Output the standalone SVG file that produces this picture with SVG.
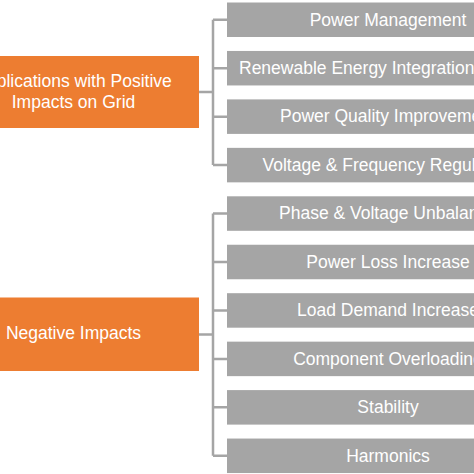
<svg xmlns="http://www.w3.org/2000/svg" width="474" height="474" viewBox="0 0 474 474">
<style>
.o{fill:#ED7D31}
.g{fill:#A5A5A5}
text{font-family:"Liberation Sans",Arial,sans-serif;font-size:17.5px;fill:#FFFFFF;text-anchor:middle}
.c{stroke:#A5A5A5;stroke-width:2.5;fill:none}
</style>
<rect width="474" height="474" fill="#FFFFFF"/>
<g id="connectors">
<path class="c" d="M199 92H213M213 19.75V165.1M213 19.75H227M213 68.2H227M213 116.65H227M213 165.1H227"/>
<path class="c" d="M199 334.5H213M213 213.55V455.8M213 213.55H227M213 262H227M213 310.45H227M213 358.9H227M213 407.35H227M213 455.8H227"/>
</g>
<g id="positive"><rect class="o" x="-52" y="56" width="251" height="72"/><text x="73.5" y="87">Applications with Positive</text><text x="73.5" y="108">Impacts on Grid</text></g>
<g id="negative"><rect class="o" x="-52" y="297.5" width="251" height="73.5"/><text x="73.5" y="339">Negative Impacts</text></g>
<g id="n1"><rect class="g" x="227" y="2.5" width="322" height="34.5"/><text x="388" y="25.5">Power Management</text></g>
<g id="n2"><rect class="g" x="227" y="50.95" width="322" height="34.5"/><text x="239" y="73.9" style="text-anchor:start">Renewable Energy Integration</text></g>
<g id="n3"><rect class="g" x="227" y="99.4" width="322" height="34.5"/><text x="388" y="122.35">Power Quality Improvement</text></g>
<g id="n4"><rect class="g" x="227" y="147.85" width="322" height="34.5"/><text x="388" y="170.8">Voltage &amp; Frequency Regulation</text></g>
<g id="n5"><rect class="g" x="227" y="196.3" width="322" height="34.5"/><text x="388" y="219.25">Phase &amp; Voltage Unbalance</text></g>
<g id="n6"><rect class="g" x="227" y="244.75" width="322" height="34.5"/><text x="388" y="267.7">Power Loss Increase</text></g>
<g id="n7"><rect class="g" x="227" y="293.2" width="322" height="34.5"/><text x="388" y="316.15">Load Demand Increase</text></g>
<g id="n8"><rect class="g" x="227" y="341.65" width="322" height="34.5"/><text x="388" y="364.6">Component Overloading</text></g>
<g id="n9"><rect class="g" x="227" y="390.1" width="322" height="34.5"/><text x="388" y="413.05">Stability</text></g>
<g id="n10"><rect class="g" x="227" y="438.55" width="322" height="34.5"/><text x="388" y="461.5">Harmonics</text></g>
</svg>
